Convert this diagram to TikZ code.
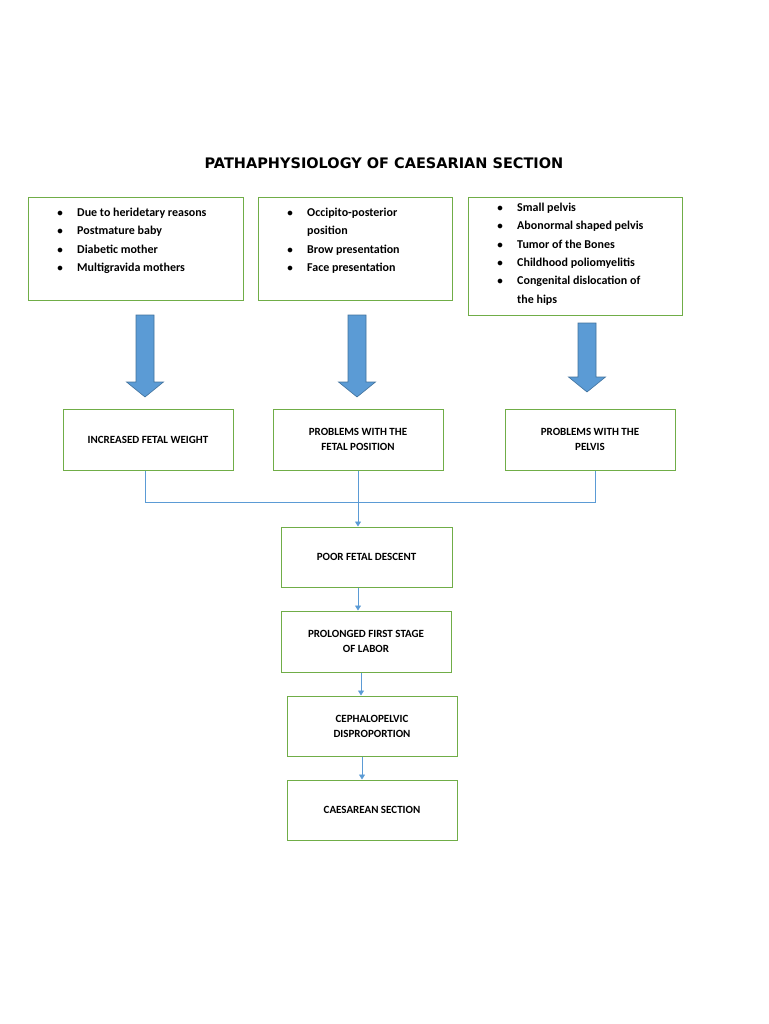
\documentclass[tikz,border=0pt]{standalone}
\usepackage{fontspec}
\setmainfont{Carlito}
\newfontfamily\titlefont{DejaVu Sans}
\usetikzlibrary{arrows.meta}
\definecolor{bgreen}{RGB}{112,173,71}
\definecolor{bblue}{RGB}{91,155,213}
\definecolor{dblue}{RGB}{65,113,156}
\begin{document}
\begin{tikzpicture}[x=1pt,y=-1pt,
 box/.style={draw=bgreen,line width=1pt,inner sep=0pt},
 lbl/.style={font=\bfseries\fontsize{11}{15}\selectfont,align=center},
 lst/.style={font=\bfseries\fontsize{12}{18.3}\selectfont,align=left,anchor=north west,inner sep=0pt},
 conn/.style={draw=bblue,line width=0.9pt},
 arr/.style={conn,-{Triangle[length=5pt,width=6pt]}},
 big/.style={fill=bblue,draw=dblue,line width=0.6pt}]
\useasboundingbox (0,0) rectangle (768,1024);
\node[font=\titlefont\bfseries\fontsize{14.5}{16}\selectfont] (title) at (384,163) {PATHAPHYSIOLOGY OF CAESARIAN SECTION};
% top boxes
\node[box,minimum width=215pt,minimum height=102pt] (ta) at (135.5,249) {};
\node[box,minimum width=194pt,minimum height=102pt] (tb) at (355,249) {};
\node[box,minimum width=214pt,minimum height=117pt] (tc) at (575,256.5) {};
\node[lst] (la) at (57,208) {$\bullet$\hspace{14pt}Due to heridetary reasons\\$\bullet$\hspace{14pt}Postmature baby\\$\bullet$\hspace{14pt}Diabetic mother\\$\bullet$\hspace{14pt}Multigravida mothers};
\node[lst] (lb) at (287,208) {$\bullet$\hspace{14pt}Occipito-posterior\\\hspace{20pt}position\\$\bullet$\hspace{14pt}Brow presentation\\$\bullet$\hspace{14pt}Face presentation};
\node[lst] (lc) at (497,203) {$\bullet$\hspace{14pt}Small pelvis\\$\bullet$\hspace{14pt}Abonormal shaped pelvis\\$\bullet$\hspace{14pt}Tumor of the Bones\\$\bullet$\hspace{14pt}Childhood poliomyelitis\\$\bullet$\hspace{14pt}Congenital dislocation of\\\hspace{20pt}the hips};
% big arrows
\foreach \n/\cx/\ya/\yb/\yc in {aa/145/315/382/397,ab/357/315/382/397,ac/587/323/377/392}{
 \draw[big] (\cx-9,\ya) -- (\cx+9,\ya) -- (\cx+9,\yb) -- (\cx+18.5,\yb) -- (\cx,\yc) -- (\cx-18.5,\yb) -- (\cx-9,\yb) -- cycle;
}
% middle boxes
\node[box,minimum width=170pt,minimum height=61pt,lbl] (m1) at (148,439.5) {INCREASED FETAL WEIGHT};
\node[box,minimum width=170pt,minimum height=61pt,lbl] (m2) at (358,439.5) {PROBLEMS WITH THE\\FETAL POSITION};
\node[box,minimum width=170pt,minimum height=61pt,lbl] (m3) at (590,439.5) {PROBLEMS WITH THE\\PELVIS};
\node[lbl] at (358,434) {};
% chain
\node[box,minimum width=171pt,minimum height=60pt,lbl] (p1) at (366.5,557) {POOR FETAL DESCENT};
\node[box,minimum width=170pt,minimum height=61pt,lbl] (p2) at (366,641.5) {PROLONGED FIRST STAGE\\OF LABOR};
\node[box,minimum width=170pt,minimum height=60pt,lbl] (p3) at (372,726) {CEPHALOPELVIC\\DISPROPORTION};
\node[box,minimum width=170pt,minimum height=60pt,lbl] (p4) at (372,810) {CAESAREAN SECTION};
\coordinate (jl) at (145,502);
\coordinate (jr) at (595,502);
\draw[conn] (m1.south -| jl) -- (jl) -- (jr) -- (m3.south -| jr);
\draw[arr] (m2.south) -- (m2.south |- p1.north);
\draw[arr] (p1.south -| 358,0) -- (p2.north -| 358,0);
\draw[arr] (p2.south -| 361,0) -- (p3.north -| 361,0);
\draw[arr] (p3.south -| 362,0) -- (p4.north -| 362,0);
\end{tikzpicture}
\end{document}
